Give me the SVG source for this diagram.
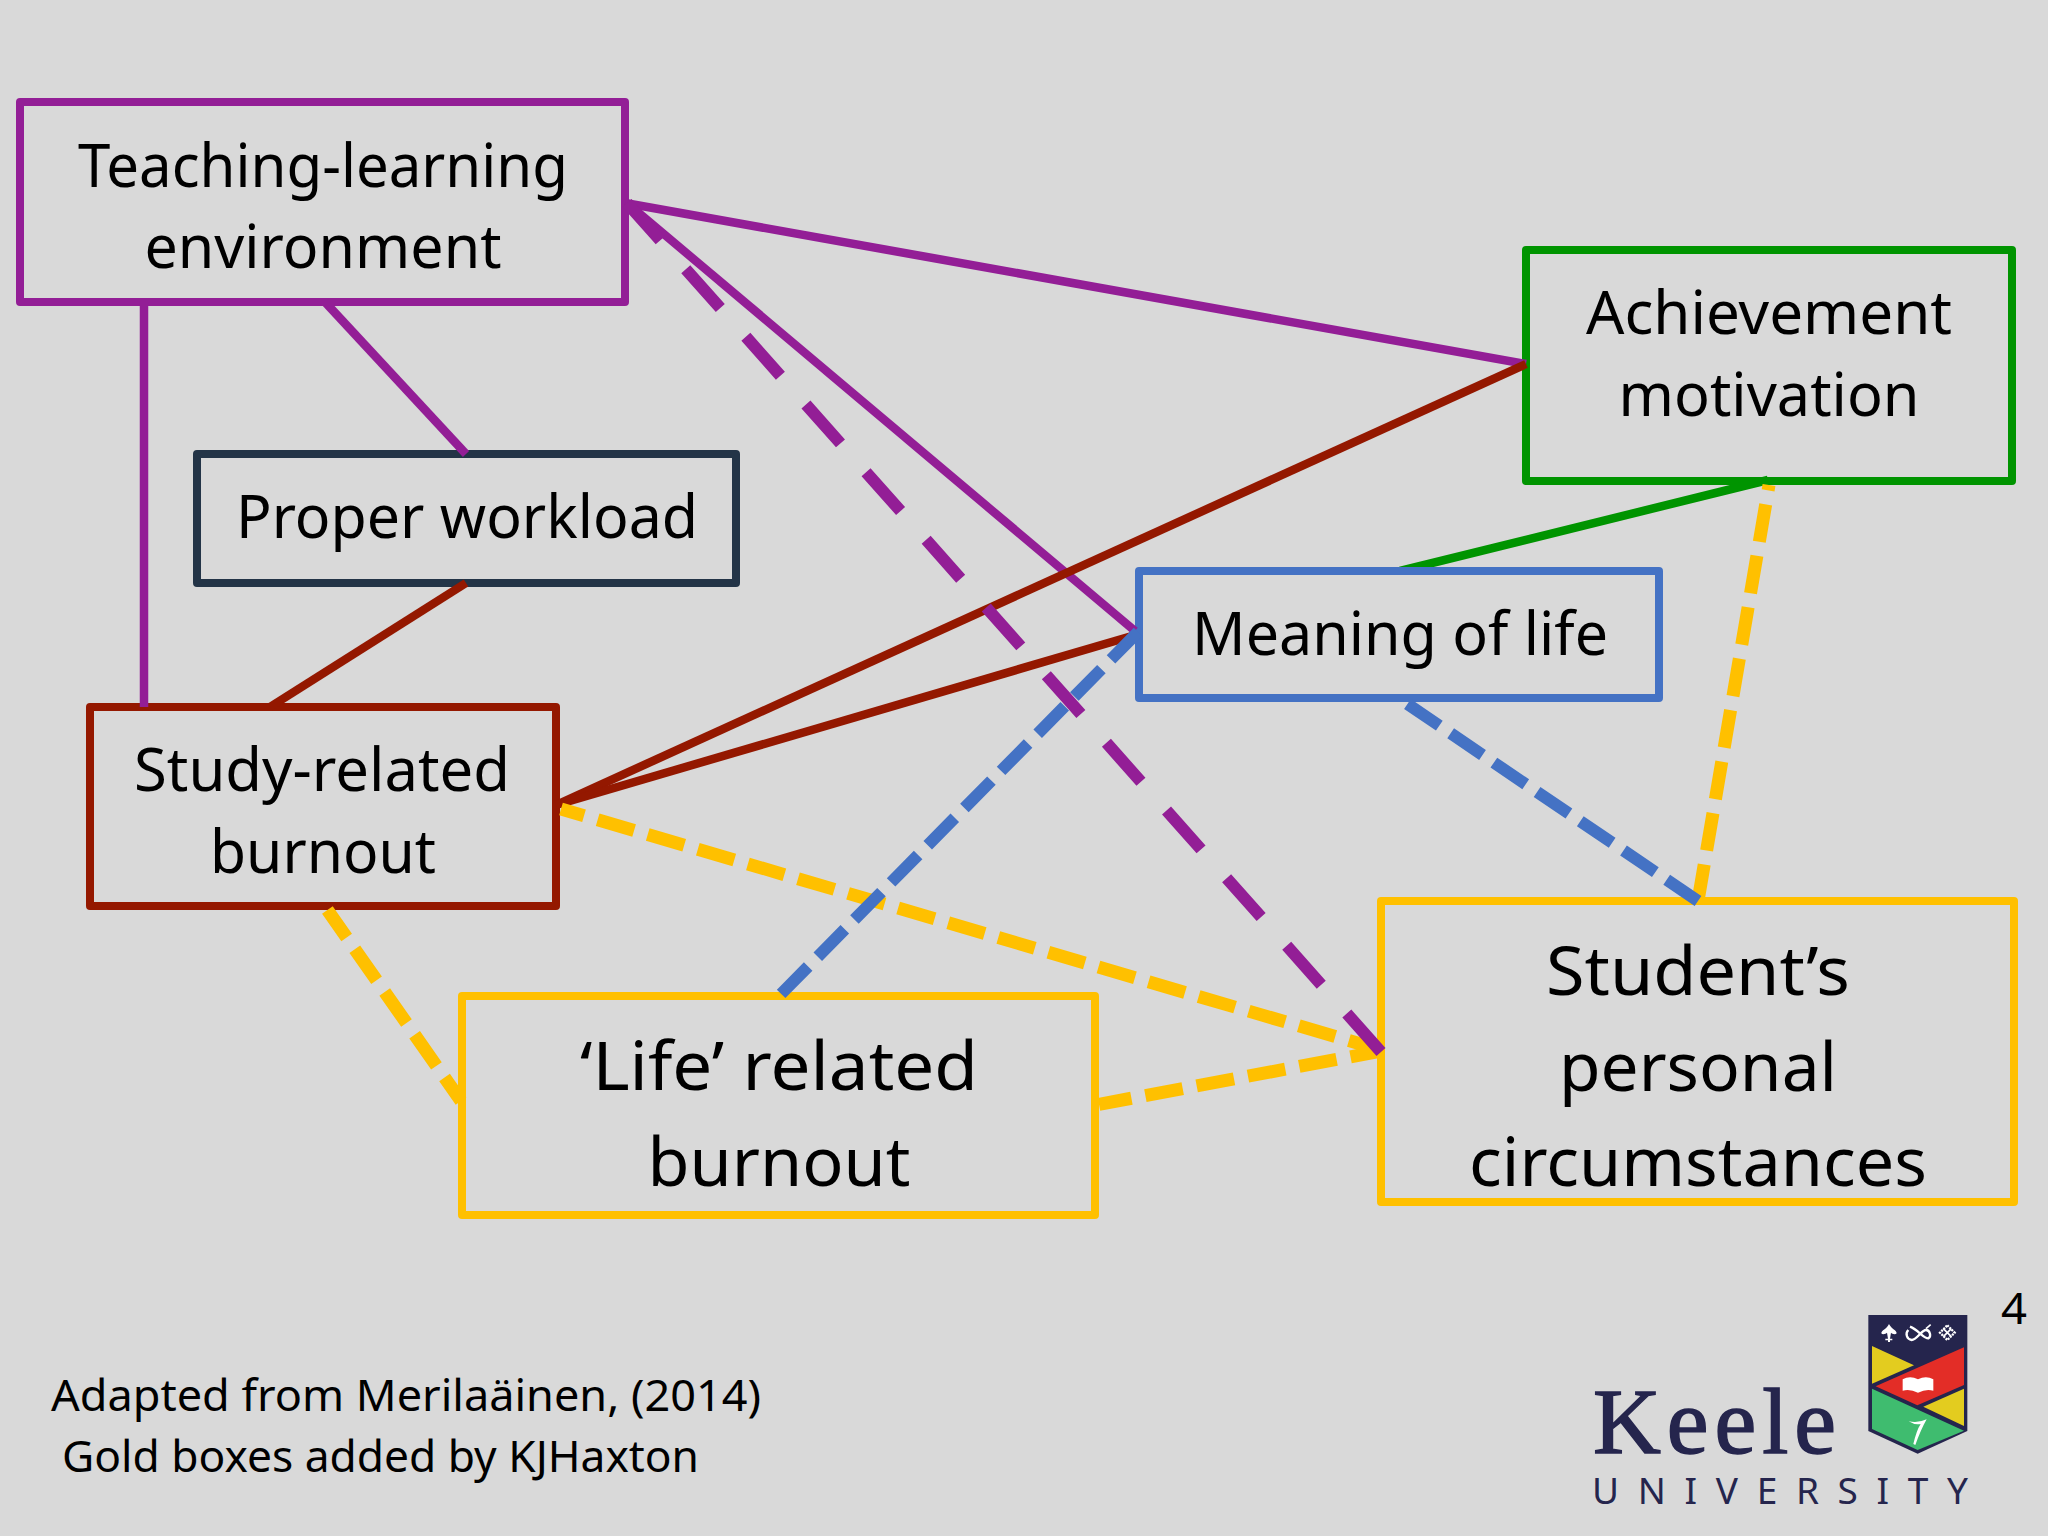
<svg xmlns="http://www.w3.org/2000/svg" width="2048" height="1536" viewBox="0 0 2048 1536">
<style>
.box{fill:none;stroke-width:8;stroke-linejoin:round}
.t{font-family:"Noto Sans","Open Sans",sans-serif;font-size:60px;fill:#000;text-anchor:middle}
.b{font-size:68px}
.s{font-family:"Noto Sans","Open Sans",sans-serif;font-size:44px;fill:#000}
.l{fill:none;stroke-width:8.5}
.d{fill:none}
.gold{stroke:#FFC000;stroke-width:13;stroke-dasharray:38 14.2}
.blue{stroke:#4472C4;stroke-width:12;stroke-dasharray:38.5 13.7}
.purple{stroke:#931E96;stroke-width:12;stroke-dasharray:52 38.5;stroke-dashoffset:2}
</style>
<defs><clipPath id="aboveMeaning"><rect x="1380" y="470" width="420" height="97"/></clipPath></defs>
<rect width="2048" height="1536" fill="#D9D9D9"/>
<g id="teaching"><rect class="box" x="20" y="102" width="605" height="200" stroke="#931E96"/><text class="t" x="323" y="187" textLength="490" lengthAdjust="spacingAndGlyphs">Teaching-learning</text><text class="t" x="323" y="268" textLength="357" lengthAdjust="spacingAndGlyphs">environment</text></g>
<g id="achievement"><rect class="box" x="1526" y="250" width="486" height="231" stroke="#009400"/><text class="t" x="1769" y="334" textLength="366" lengthAdjust="spacingAndGlyphs">Achievement</text><text class="t" x="1769" y="416" textLength="301" lengthAdjust="spacingAndGlyphs">motivation</text></g>
<g id="workload"><rect class="box" x="197" y="454" width="539" height="129" stroke="#233447"/><text class="t" x="467" y="538" textLength="462" lengthAdjust="spacingAndGlyphs">Proper workload</text></g>
<g id="meaning"><rect class="box" x="1139" y="571" width="520" height="127" stroke="#4472C4"/><text class="t" x="1400" y="655" textLength="416" lengthAdjust="spacingAndGlyphs">Meaning of life</text></g>
<g id="study"><rect class="box" x="90" y="707" width="466" height="199" stroke="#941800"/><text class="t" x="322" y="791" textLength="376" lengthAdjust="spacingAndGlyphs">Study-related</text><text class="t" x="323" y="873" textLength="226" lengthAdjust="spacingAndGlyphs">burnout</text></g>
<g id="life"><rect class="box" x="462" y="996" width="633" height="219" stroke="#FFC000"/><text class="t b" x="779" y="1090" textLength="398" lengthAdjust="spacingAndGlyphs">‘Life’ related</text><text class="t b" x="779" y="1186" textLength="263" lengthAdjust="spacingAndGlyphs">burnout</text></g>
<g id="personal"><rect class="box" x="1381" y="901" width="633" height="301" stroke="#FFC000"/><text class="t b" x="1698" y="995" textLength="304" lengthAdjust="spacingAndGlyphs">Student’s</text><text class="t b" x="1698" y="1091" textLength="278" lengthAdjust="spacingAndGlyphs">personal</text><text class="t b" x="1698" y="1186" textLength="458" lengthAdjust="spacingAndGlyphs">circumstances</text></g>
<g id="connectors">
<line class="l" x1="625" y1="203" x2="1526" y2="364" stroke="#931E96"/>
<line class="l" x1="144" y1="302" x2="144" y2="707" stroke="#931E96"/>
<line class="l" x1="325" y1="302" x2="466" y2="454" stroke="#931E96"/>
<line class="l" x1="627" y1="203" x2="1135" y2="631" stroke="#931E96"/>
<line class="l" x1="466" y1="583" x2="270" y2="707" stroke="#941800"/>
<line class="l" x1="556" y1="805" x2="1526" y2="364" stroke="#941800"/>
<line class="l" x1="556" y1="805" x2="1132" y2="636" stroke="#941800"/>
<line class="l" x1="1400" y1="571" x2="1768" y2="480" stroke="#009400" clip-path="url(#aboveMeaning)"/>
<line class="d gold" x1="1769" y1="485" x2="1698" y2="901" style="stroke-dashoffset:32.6"/>
<line class="d gold" x1="561" y1="809" x2="1381" y2="1050" style="stroke-dashoffset:14"/>
<line class="d gold" x1="327.4" y1="910" x2="461" y2="1101" style="stroke-dashoffset:4.4"/>
<line class="d gold" x1="1099" y1="1104.4" x2="1381" y2="1051" style="stroke-dashoffset:5"/>
<line class="d blue" x1="780" y1="995" x2="1139" y2="631" style="stroke-dashoffset:-1.6"/>
<line class="d blue" x1="1400" y1="699" x2="1698" y2="901" style="stroke-dashoffset:-9"/>
<line class="d purple" x1="627" y1="203" x2="1381" y2="1052"/>
</g>
<g id="citation"><text class="s" x="51" y="1411" textLength="710" lengthAdjust="spacingAndGlyphs">Adapted from Merilaäinen, (2014)</text><text class="s" x="62" y="1472" textLength="637" lengthAdjust="spacingAndGlyphs">Gold boxes added by KJHaxton</text></g>
<text id="page" class="s" x="2001" y="1324" textLength="26" lengthAdjust="spacingAndGlyphs">4</text>
<g id="logo">
<text x="1593" y="1453" font-family="'Liberation Serif',serif" font-size="94" fill="#25254D" textLength="243" lengthAdjust="spacing" stroke="#25254D" stroke-width="1.5">Keele</text>
<text x="1592" y="1504" font-family="'Noto Sans',sans-serif" font-size="37" fill="#25254D" textLength="376" lengthAdjust="spacing">UNIVERSITY</text>
<g transform="translate(1560 1280) scale(.33333)">
<path d="M925 105H1222V453L1073 521L925 453Z" fill="#25254D"/>
<path d="M936 198L1062 256L936 311Z" fill="#E3CC1F"/>
<path d="M1212 202V315L1072 376L947 319Z" fill="#E32D27"/>
<path d="M1212 326V438L1090 380Z" fill="#E3CC1F"/>
<path d="M936 326L1212 452L1073 510L936 447Z" fill="#3FBC6F"/>
<path d="M1028 298Q1050 285 1074 298Q1098 285 1120 298V332Q1098 326 1074 338Q1050 326 1028 332Z" fill="#fff"/>
<path d="M1046 424Q1075 430 1100 418Q1082 450 1066 495L1060 492Q1070 450 1082 432Q1065 436 1046 424Z" fill="#fff"/>
<path d="M987 132C995 148 1010 150 1010 160C1005 166 995 160 993 158L990 176H997V181H990V186H984V181H976V176H984L981 158C979 160 968 166 964 160C964 150 980 148 987 132Z" fill="#fff"/>
<path d="M1050 140C1075 150 1090 175 1105 175C1115 170 1110 150 1098 150C1085 150 1070 180 1055 180C1040 178 1035 160 1045 150" fill="none" stroke="#fff" stroke-width="7"/>
<path d="M1112 134L1098 146" stroke="#fff" stroke-width="5"/>
<path d="M1162 136L1184 158L1162 180L1140 158Z" fill="none" stroke="#fff" stroke-width="7" stroke-dasharray="6 3"/>
<path d="M1150 146L1174 170M1174 146L1150 170" stroke="#fff" stroke-width="5"/>
</g>
</g>
</svg>
